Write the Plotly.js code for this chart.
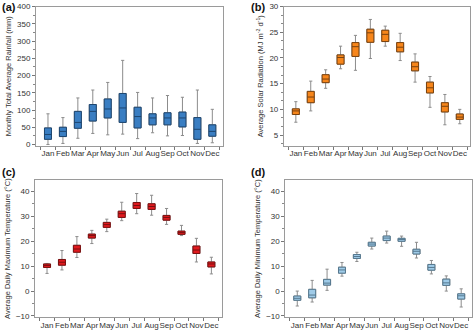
<!DOCTYPE html>
<html><head><meta charset="utf-8">
<script src="https://cdn.plot.ly/plotly-3.0.1.min.js"></script>
<style>html,body{margin:0;padding:0;background:#fff}#chart{width:474px;height:330px}</style>
</head><body><div id="chart"></div>
<script>
const months = ["Jan","Feb","Mar","Apr","May","Jun","Jul","Aug","Sep","Oct","Nov","Dec"];

// (a) Monthly total average rainfall (mm)
const rainMin = [0, 3, 18, 32, 28, 30, 17, 34, 25, 26, 3, 5];
const rainQ1  = [15, 23, 47, 68, 77, 64, 48, 57, 57, 51, 15, 24];
const rainMed = [29, 38, 64, 96, 103, 106, 81, 77, 77, 77, 44, 38];
const rainQ3  = [48, 50, 96, 116, 132, 148, 108, 89, 92, 94, 78, 57];
const rainMax = [89, 78, 135, 158, 180, 244, 151, 135, 142, 137, 158, 102];

// (b) Average solar radiation (MJ m-2 d-1)
const solMin = [7.5, 9.7, 14.1, 17.9, 17.6, 19.9, 22.3, 19.5, 15.3, 10.4, 7.0, 7.2];
const solQ1  = [9.0, 11.3, 15.2, 18.8, 20.3, 23.05, 23.2, 21.2, 17.5, 13.2, 9.5, 8.05];
const solMed = [9.7, 12.4, 15.9, 20.1, 22.2, 24.9, 24.6, 22.1, 18.3, 14.2, 10.6, 8.5];
const solQ3  = [10.1, 13.5, 16.75, 20.6, 23.0, 25.6, 25.4, 23.0, 19.2, 15.3, 11.3, 9.1];
const solMax = [11.5, 15.5, 17.7, 22.3, 24.4, 27.5, 26.2, 24.8, 20.8, 16.4, 12.9, 10.0];

// (c) Average daily maximum temperature (°C)
const tmaxMin = [7.1, 8.5, 13.5, 19.1, 23.9, 28.3, 31.1, 30.5, 26.8, 22.3, 11.7, 6.9];
const tmaxQ1  = [9.5, 10.4, 15.6, 21.3, 25.6, 29.6, 33.2, 32.8, 28.5, 22.8, 15.1, 9.7];
const tmaxMed = [10.3, 11.6, 16.9, 22.3, 26.7, 31.1, 34.4, 34.0, 29.6, 23.5, 16.5, 10.9];
const tmaxQ3  = [10.9, 12.7, 18.4, 22.9, 27.6, 32.1, 35.6, 35.1, 30.4, 24.1, 18.1, 11.7];
const tmaxMax = [11.1, 16.3, 21.9, 24.4, 28.9, 35.7, 39.2, 38.5, 33.2, 26.4, 21.2, 13.6];

// (d) Average daily minimum temperature (°C)
const tminMin = [-6.0, -4.4, 0.3, 6.0, 11.9, 16.9, 19.3, 18.0, 13.3, 6.9, 0.0, -6.4];
const tminQ1  = [-3.7, -2.7, 2.4, 7.2, 13.1, 18.1, 20.3, 20.0, 14.9, 8.4, 2.3, -3.2];
const tminMed = [-2.9, -1.6, 3.2, 8.5, 13.9, 18.9, 21.3, 20.7, 16.0, 9.5, 3.3, -1.9];
const tminQ3  = [-2.0, 0.7, 4.7, 9.6, 14.7, 19.6, 22.1, 21.2, 16.8, 10.7, 4.8, -1.1];
const tminMax = [0.0, 4.3, 8.8, 11.5, 15.6, 21.3, 24.1, 22.1, 19.6, 12.3, 6.1, 0.9];

function panel(xa, ya, mn, q1, md, q3, mx, fill, edge) {
  const whisk = {
    type: 'box', x: months, q1: q1, median: md, q3: q3,
    lowerfence: mn, upperfence: mx, xaxis: xa, yaxis: ya,
    fillcolor: 'rgba(0,0,0,0)', line: {color: '#8c8c8c', width: 1},
    whiskerwidth: 0.45, boxpoints: false, showlegend: false, hoverinfo: 'skip'
  };
  const box = {
    type: 'box', x: months, q1: q1, median: md, q3: q3,
    lowerfence: q1, upperfence: q3, xaxis: xa, yaxis: ya,
    fillcolor: fill, line: {color: edge, width: 1},
    whiskerwidth: 0, boxpoints: false, showlegend: false
  };
  return [whisk, box];
}

const data = [].concat(
  panel('x', 'y', rainMin, rainQ1, rainMed, rainQ3, rainMax, '#3a7ec2', '#1d4670'),
  panel('x2', 'y2', solMin, solQ1, solMed, solQ3, solMax, '#f7861b', '#7a420e'),
  panel('x3', 'y3', tmaxMin, tmaxQ1, tmaxMed, tmaxQ3, tmaxMax, '#e0191e', '#7a1010'),
  panel('x4', 'y4', tminMin, tminQ1, tminMed, tminQ3, tminMax, '#9fcbe8', '#55788f')
);

const fam = 'Liberation Sans, Arial, sans-serif';
function xax(dom, anchor) {
  return {domain: dom, anchor: anchor, type: 'category', range: [-0.8, 11.7],
    showline: true, mirror: true, linecolor: '#9a9a9a', linewidth: 1,
    ticks: 'outside', tickson: 'boundaries', ticklen: 3, tickcolor: '#777',
    tickangle: 0, ticklabelstandoff: 0,
    tickfont: {family: fam, size: 8, color: '#333'}, showgrid: false, zeroline: false, automargin: false};
}
function yax(dom, anchor, range, dtick, mdtick, title) {
  return {domain: dom, anchor: anchor, range: range, dtick: dtick, tick0: 0,
    showline: true, mirror: true, linecolor: '#9a9a9a', linewidth: 1,
    ticks: 'outside', ticklen: 3, tickcolor: '#777',
    minor: {ticks: 'outside', dtick: mdtick, tick0: 0, ticklen: 2, tickcolor: '#888', showgrid: false},
    tickfont: {family: fam, size: 8, color: '#333'}, showgrid: false, zeroline: false,
    automargin: false,
    title: {text: title, font: {family: fam, size: 7.5, color: '#333'}, standoff: 4}};
}

const topDom = [0.558, 0.98];
const botDom = [0.038, 0.455];
const lab = {family: fam, size: 11, color: '#111'};
const layout = {
  width: 474, height: 330,
  margin: {l: 0, r: 0, t: 0, b: 0},
  paper_bgcolor: '#fff', plot_bgcolor: '#fff',
  boxmode: 'overlay', boxgap: 0.33,
  font: {family: fam, size: 8, color: '#333'}, showlegend: false,
  xaxis: xax([0.076, 0.470], 'y'),
  yaxis: yax(topDom, 'x', [-4, 400], 50, 25, 'Monthly Total Average Rainfall (mm)'),
  xaxis2: xax([0.599, 0.992], 'y2'),
  yaxis2: yax(topDom, 'x2', [2.9, 30], 5, 5/3, 'Average Solar Radiation (MJ m<sup>-2</sup> d<sup>-1</sup>)'),
  xaxis3: xax([0.074, 0.468], 'y3'),
  yaxis3: yax(botDom, 'x3', [-10.6, 44.7], 10, 5, 'Average Daily Maximum Temperature (°C)'),
  xaxis4: xax([0.602, 0.995], 'y4'),
  yaxis4: yax(botDom, 'x4', [-10.6, 44.7], 10, 5, 'Average Daily Minimum Temperature (°C)'),
  annotations: [
    {text: '<b>(a)</b>', x: 0.0, y: 1 - 7/330, xref: 'paper', yref: 'paper', xanchor: 'left', yanchor: 'middle', showarrow: false, font: lab},
    {text: '<b>(b)</b>', x: 249/474, y: 1 - 7/330, xref: 'paper', yref: 'paper', xanchor: 'left', yanchor: 'middle', showarrow: false, font: lab},
    {text: '<b>(c)</b>', x: 0.0, y: 1 - 172/330, xref: 'paper', yref: 'paper', xanchor: 'left', yanchor: 'middle', showarrow: false, font: lab},
    {text: '<b>(d)</b>', x: 249/474, y: 1 - 172/330, xref: 'paper', yref: 'paper', xanchor: 'left', yanchor: 'middle', showarrow: false, font: lab}
  ]
};

Plotly.newPlot('chart', data, layout, {staticPlot: true, displayModeBar: false});
</script>
</body></html>
